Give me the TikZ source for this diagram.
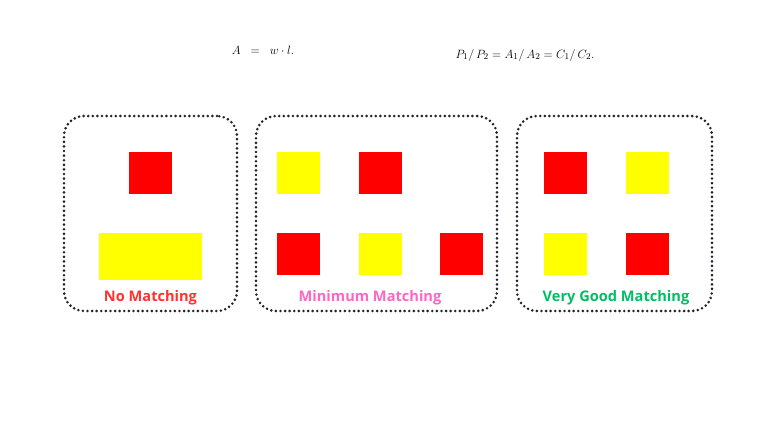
\documentclass[tikz,border=0pt]{standalone}
\usepackage{fontspec}
\setsansfont{Open Sans}
\usetikzlibrary{calc}
\definecolor{dotgray}{RGB}{35,35,45}
\definecolor{sqred}{RGB}{255,0,0}
\definecolor{sqyellow}{RGB}{255,255,0}
\definecolor{labred}{RGB}{255,49,49}
\definecolor{labpink}{RGB}{255,102,196}
\definecolor{labgreen}{RGB}{0,191,99}
\tikzset{
    lab/.style={
        font=\sffamily\bfseries\fontsize{14.6}{16}\selectfont
    }
}

\begin{document}
\begin{tikzpicture}[x=1pt,y=-1pt, line cap=round, line join=round]

\tikzset{
  frame/.style={draw=dotgray, line width=2.9pt, dash pattern=on 0pt off 4.6pt, rounded corners=20pt, minimum height=195pt},
  redsq/.style={fill=sqred, minimum width=43pt, minimum height=42pt, inner sep=0pt},
  yelsq/.style={fill=sqyellow, minimum width=43pt, minimum height=42pt, inner sep=0pt},
  eq/.style={font=\fontsize{13}{15}\selectfont}
}

\useasboundingbox (0,0) rectangle (768,432);

\node[eq] (area) at (263,50) {$A\;\;=\;\;w\cdot l.$};
\node[eq] (ratio) at (525,55) {$P_1/\,P_2=A_1/\,A_2=C_1/\,C_2.$};

% no matching
\node[frame, minimum width=173pt] (box1) at (150.5,213.5) {};
\node[redsq] (n1) at (150,173) {};
\node[yelsq, minimum width=103pt, minimum height=47pt] (n2) at (150.5,256.5) {};
\node[lab, text=labred] (nolab) at (150.5,298) {No Matching};

% minimum matching
\node[frame, minimum width=241pt] (box2) at (376.5,213.5) {};
\node[yelsq] (m1) at (298.5,173) {};
\node[redsq] (m2) at (380,173) {};
\node[redsq] (m3) at (298.5,254) {};
\node[yelsq] (m4) at (380,254) {};
\node[redsq] (m5) at (461.5,254) {};
\node[lab, text=labpink] (minlab) at (370,298) {Minimum Matching};

% very good matching
\node[frame, minimum width=195pt] (box3) at (614.5,213.5) {};
\node[redsq] (g1) at (565.5,173) {};
\node[yelsq] (g2) at (647.5,173) {};
\node[yelsq] (g3) at (565.5,254) {};
\node[redsq] (g4) at (647.5,254) {};
\node[lab, text=labgreen] (goodlab) at (616,298) {Very Good Matching};

\end{tikzpicture}
\end{document}
